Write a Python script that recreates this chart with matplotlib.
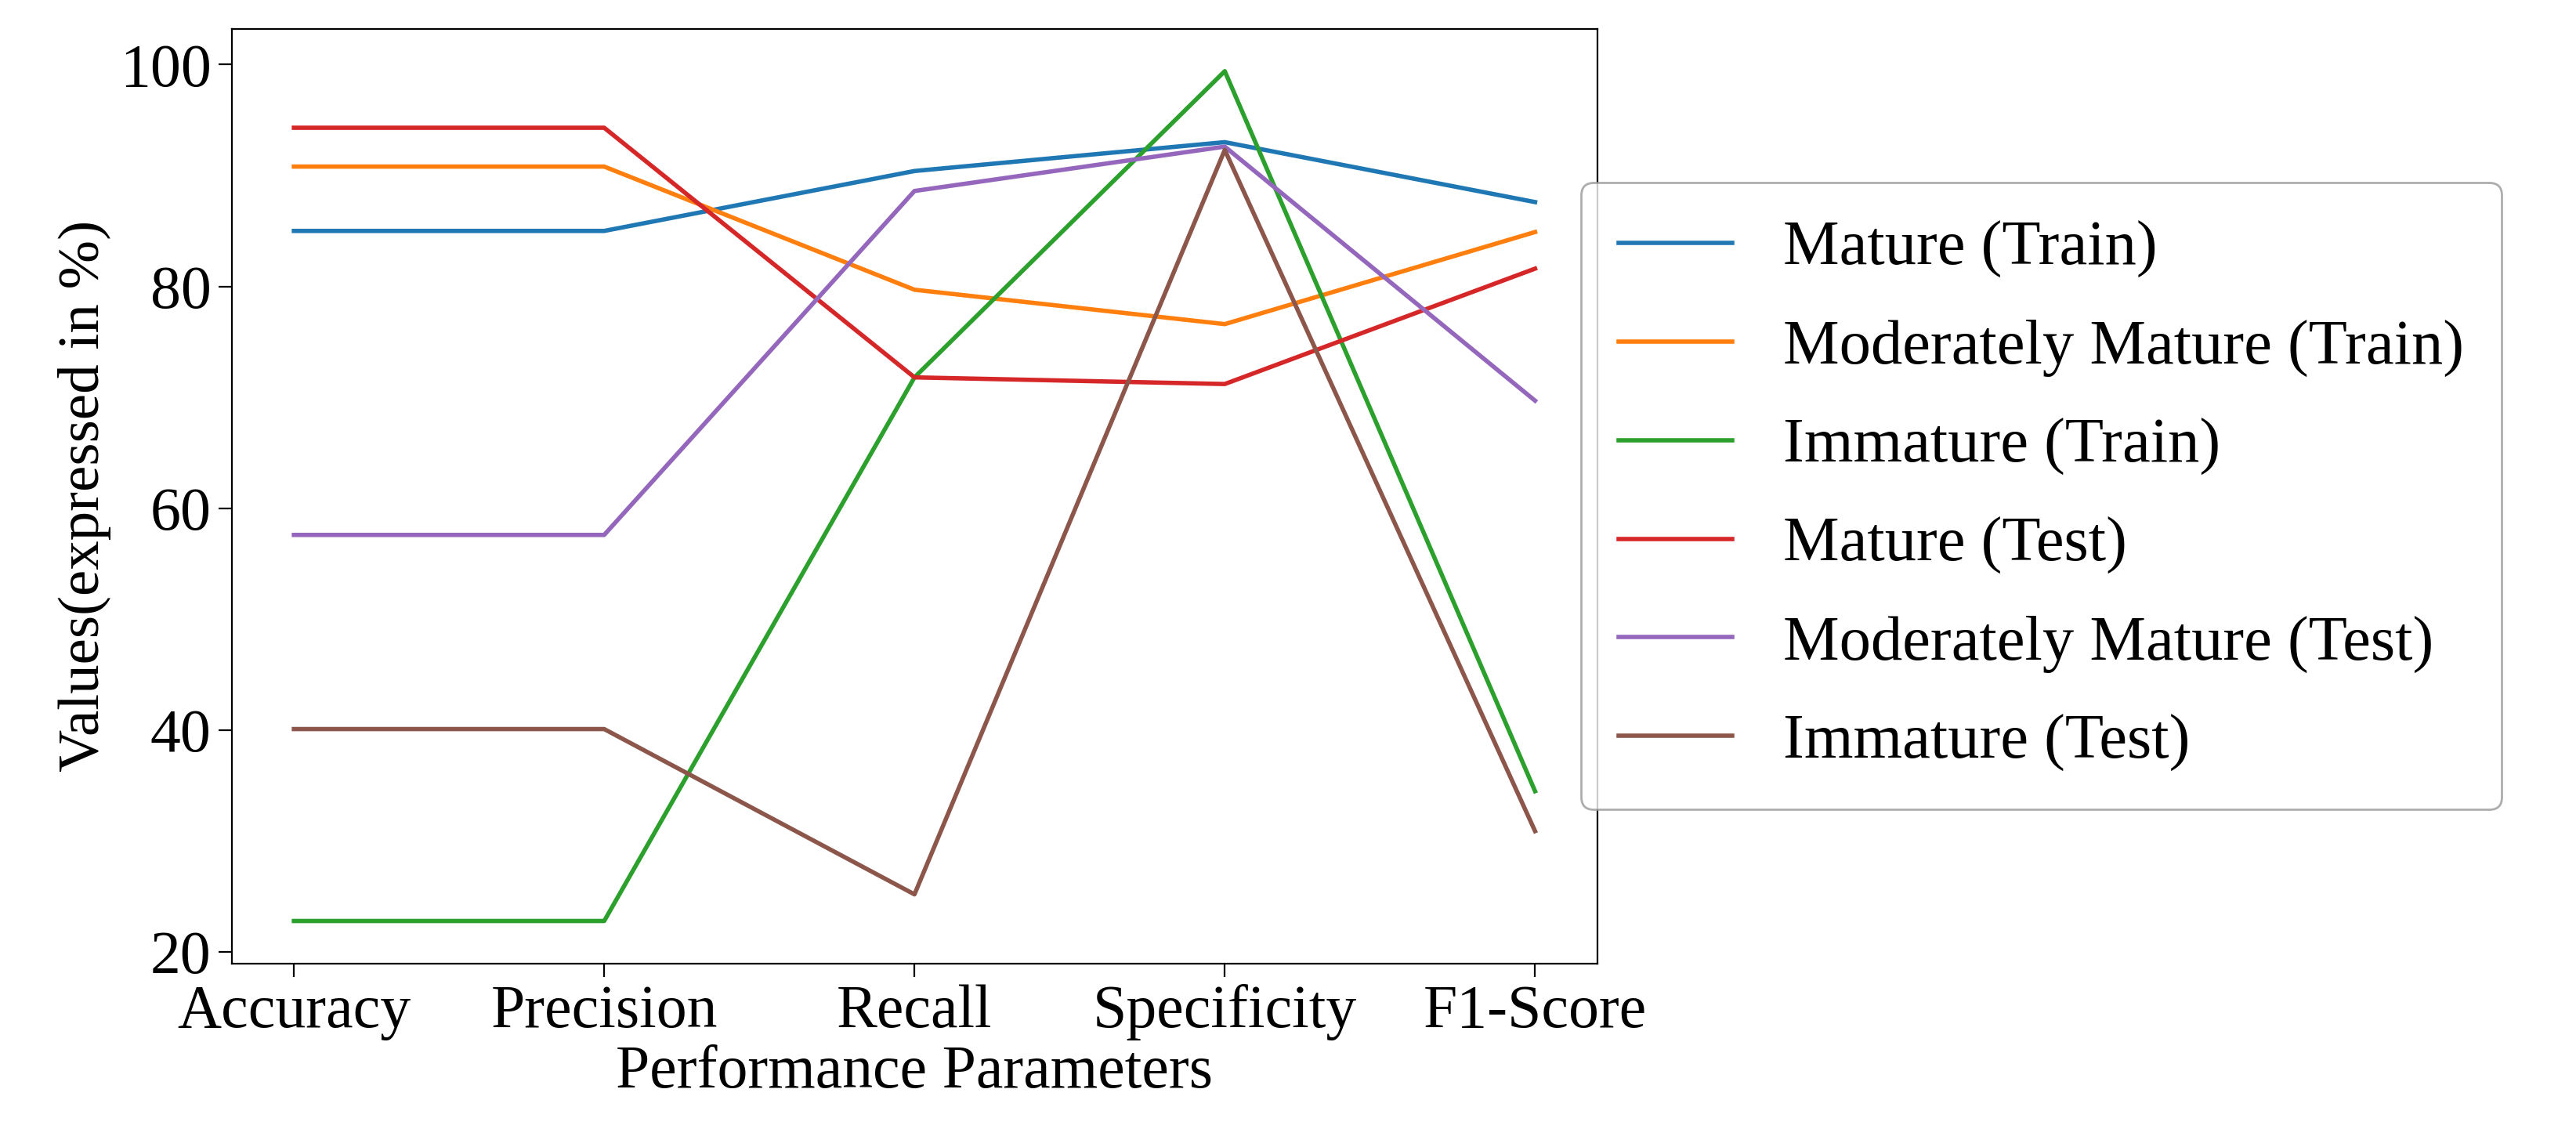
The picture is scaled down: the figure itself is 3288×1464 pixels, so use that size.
import numpy as np
import matplotlib.pyplot as plt

params = ["Accuracy", "Precision", "Recall", "Specificity", "F1-Score"]
mature_train = [85.0, 85.0, 90.4, 93.0, 87.6]
moderate_train = [90.8, 90.8, 79.7, 76.6, 84.9]
immature_train = [22.8, 22.8, 71.8, 99.4, 34.5]
mature_test = [94.3, 94.3, 71.8, 71.2, 81.6]
moderate_test = [57.6, 57.6, 88.6, 92.6, 69.7]
immature_test = [40.1, 40.1, 25.2, 92.3, 30.9]

series = [
    ("Mature (Train)", mature_train),
    ("Moderately Mature (Train)", moderate_train),
    ("Immature (Train)", immature_train),
    ("Mature (Test)", mature_test),
    ("Moderately Mature (Test)", moderate_test),
    ("Immature (Test)", immature_test),
]

plt.rcParams['font.family'] = ['Liberation Serif', 'DejaVu Serif']
fig = plt.figure(figsize=(16.44, 7.32), dpi=200)
ax = fig.add_axes([0.09, 0.16, 0.53, 0.815])

for name, vals in series:
    ax.plot(params, vals, lw=2, label=name)

ax.set_yticks([20, 40, 60, 80, 100])
ax.tick_params(labelsize=28, length=6)
ax.set_xlabel("Performance Parameters", fontsize=28, labelpad=2)
ax.set_ylabel("Values(expressed in %)", fontsize=27)
ax.legend(loc='center left', bbox_to_anchor=(0.965, 0.5), fontsize=29,
          handlelength=1.8, labelspacing=0.65, borderpad=0.6, edgecolor='0.6')

fig.savefig("out.png", dpi=200)
